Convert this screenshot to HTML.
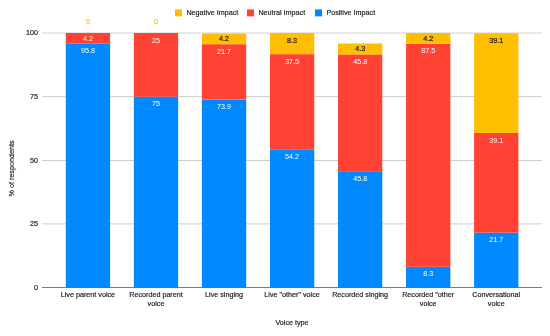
<!DOCTYPE html>
<html><head><meta charset="utf-8"><style>
html,body{margin:0;padding:0;background:#fff;width:550px;height:336px;overflow:hidden}
svg{display:block;will-change:transform}
text{stroke-width:0.18px}
</style></head><body>
<svg width="550" height="336" viewBox="0 0 550 336" font-family="Liberation Sans, sans-serif">
<rect width="550" height="336" fill="#fff"/>
<rect x="42" y="32.50" width="500" height="1" fill="#cfcfcf"/>
<rect x="42" y="96.10" width="500" height="1" fill="#cfcfcf"/>
<rect x="42" y="160.00" width="500" height="1" fill="#cfcfcf"/>
<rect x="42" y="223.40" width="500" height="1" fill="#cfcfcf"/>
<text x="38" y="35.00" font-size="7.2" fill="#222" stroke="#222" text-anchor="end">100</text>
<text x="38" y="98.60" font-size="7.2" fill="#222" stroke="#222" text-anchor="end">75</text>
<text x="38" y="162.50" font-size="7.2" fill="#222" stroke="#222" text-anchor="end">50</text>
<text x="38" y="225.90" font-size="7.2" fill="#222" stroke="#222" text-anchor="end">25</text>
<text x="38" y="289.50" font-size="7.2" fill="#222" stroke="#222" text-anchor="end">0</text>
<rect x="42" y="287" width="500" height="1" fill="#7e7e7e"/>
<rect x="65.8" y="43.71" width="44.3" height="244.29" fill="#0088ff"/>
<rect x="65.8" y="33.00" width="44.3" height="10.71" fill="#ff4234"/>
<text x="87.94999999999999" y="297.30" font-size="7.2" fill="#222" stroke="#222" text-anchor="middle">Live parent voice</text>
<rect x="133.85" y="96.75" width="44.3" height="191.25" fill="#0088ff"/>
<rect x="133.85" y="33.00" width="44.3" height="63.75" fill="#ff4234"/>
<text x="156.0" y="297.30" font-size="7.2" fill="#222" stroke="#222" text-anchor="middle">Recorded parent</text>
<text x="156.0" y="305.80" font-size="7.2" fill="#222" stroke="#222" text-anchor="middle">voice</text>
<rect x="201.89999999999998" y="99.56" width="44.3" height="188.44" fill="#0088ff"/>
<rect x="201.89999999999998" y="44.22" width="44.3" height="55.34" fill="#ff4234"/>
<rect x="201.89999999999998" y="33.51" width="44.3" height="10.71" fill="#ffbf00"/>
<text x="224.04999999999998" y="297.30" font-size="7.2" fill="#222" stroke="#222" text-anchor="middle">Live singing</text>
<rect x="269.95" y="149.79" width="44.3" height="138.21" fill="#0088ff"/>
<rect x="269.95" y="54.17" width="44.3" height="95.62" fill="#ff4234"/>
<rect x="269.95" y="33.00" width="44.3" height="21.16" fill="#ffbf00"/>
<text x="292.09999999999997" y="297.30" font-size="7.2" fill="#222" stroke="#222" text-anchor="middle">Live &quot;other&quot; voice</text>
<rect x="338.0" y="171.21" width="44.3" height="116.79" fill="#0088ff"/>
<rect x="338.0" y="54.42" width="44.3" height="116.79" fill="#ff4234"/>
<rect x="338.0" y="43.46" width="44.3" height="10.97" fill="#ffbf00"/>
<text x="360.15" y="297.30" font-size="7.2" fill="#222" stroke="#222" text-anchor="middle">Recorded singing</text>
<rect x="406.05" y="266.83" width="44.3" height="21.17" fill="#0088ff"/>
<rect x="406.05" y="43.71" width="44.3" height="223.12" fill="#ff4234"/>
<rect x="406.05" y="33.00" width="44.3" height="10.71" fill="#ffbf00"/>
<text x="428.2" y="297.30" font-size="7.2" fill="#222" stroke="#222" text-anchor="middle">Recorded &quot;other</text>
<text x="428.2" y="305.80" font-size="7.2" fill="#222" stroke="#222" text-anchor="middle">voice</text>
<rect x="474.09999999999997" y="232.67" width="44.3" height="55.33" fill="#0088ff"/>
<rect x="474.09999999999997" y="132.96" width="44.3" height="99.71" fill="#ff4234"/>
<rect x="474.09999999999997" y="33.25" width="44.3" height="99.71" fill="#ffbf00"/>
<text x="496.24999999999994" y="297.30" font-size="7.2" fill="#222" stroke="#222" text-anchor="middle">Conversational</text>
<text x="496.24999999999994" y="305.80" font-size="7.2" fill="#222" stroke="#222" text-anchor="middle">voice</text>
<text x="87.94999999999999" y="53.36" font-size="7.2" fill="#fff" stroke="#fff" style="stroke-width:0px" text-anchor="middle">95.8</text>
<text x="87.94999999999999" y="40.91" font-size="7.2" fill="#fff" stroke="#fff" style="stroke-width:0px" text-anchor="middle">4.2</text>
<text x="87.94999999999999" y="23.85" font-size="7.2" fill="#ffbf00" stroke="#ffbf00" text-anchor="middle">0</text>
<text x="156.0" y="106.40" font-size="7.2" fill="#fff" stroke="#fff" style="stroke-width:0px" text-anchor="middle">75</text>
<text x="156.0" y="42.65" font-size="7.2" fill="#fff" stroke="#fff" style="stroke-width:0px" text-anchor="middle">25</text>
<text x="156.0" y="23.85" font-size="7.2" fill="#ffbf00" stroke="#ffbf00" text-anchor="middle">0</text>
<text x="224.04999999999998" y="109.20" font-size="7.2" fill="#fff" stroke="#fff" style="stroke-width:0px" text-anchor="middle">73.9</text>
<text x="224.04999999999998" y="53.87" font-size="7.2" fill="#fff" stroke="#fff" style="stroke-width:0px" text-anchor="middle">21.7</text>
<text x="224.04999999999998" y="41.41" font-size="7.2" fill="#111" stroke="#111" text-anchor="middle">4.2</text>
<text x="292.09999999999997" y="159.44" font-size="7.2" fill="#fff" stroke="#fff" style="stroke-width:0px" text-anchor="middle">54.2</text>
<text x="292.09999999999997" y="63.82" font-size="7.2" fill="#fff" stroke="#fff" style="stroke-width:0px" text-anchor="middle">37.5</text>
<text x="292.09999999999997" y="42.65" font-size="7.2" fill="#111" stroke="#111" text-anchor="middle">8.3</text>
<text x="360.15" y="180.86" font-size="7.2" fill="#fff" stroke="#fff" style="stroke-width:0px" text-anchor="middle">45.8</text>
<text x="360.15" y="64.07" font-size="7.2" fill="#fff" stroke="#fff" style="stroke-width:0px" text-anchor="middle">45.8</text>
<text x="360.15" y="51.49" font-size="7.2" fill="#111" stroke="#111" text-anchor="middle">4.3</text>
<text x="428.2" y="276.49" font-size="7.2" fill="#fff" stroke="#fff" style="stroke-width:0px" text-anchor="middle">8.3</text>
<text x="428.2" y="53.36" font-size="7.2" fill="#fff" stroke="#fff" style="stroke-width:0px" text-anchor="middle">87.5</text>
<text x="428.2" y="40.91" font-size="7.2" fill="#111" stroke="#111" text-anchor="middle">4.2</text>
<text x="496.24999999999994" y="242.32" font-size="7.2" fill="#fff" stroke="#fff" style="stroke-width:0px" text-anchor="middle">21.7</text>
<text x="496.24999999999994" y="142.61" font-size="7.2" fill="#fff" stroke="#fff" style="stroke-width:0px" text-anchor="middle">39.1</text>
<text x="496.24999999999994" y="42.90" font-size="7.2" fill="#111" stroke="#111" text-anchor="middle">39.1</text>
<rect x="175" y="9.4" width="7" height="7" fill="#ffbf00"/>
<text x="186.4" y="15.3" font-size="7.2" fill="#222" stroke="#222">Negative Impact</text>
<rect x="247" y="9.4" width="7" height="7" fill="#ff4234"/>
<text x="258.4" y="15.3" font-size="7.2" fill="#222" stroke="#222">Neutral Impact</text>
<rect x="315" y="9.4" width="7" height="7" fill="#0088ff"/>
<text x="326.4" y="15.3" font-size="7.2" fill="#222" stroke="#222">Positive Impact</text>
<text x="292" y="325" font-size="7.2" fill="#222" stroke="#222" text-anchor="middle">Voice type</text>
<text transform="translate(13.9,168.5) rotate(-90)" x="0" y="0" font-size="7.2" fill="#222" stroke="#222" text-anchor="middle">% of respondents</text>
</svg>
</body></html>
